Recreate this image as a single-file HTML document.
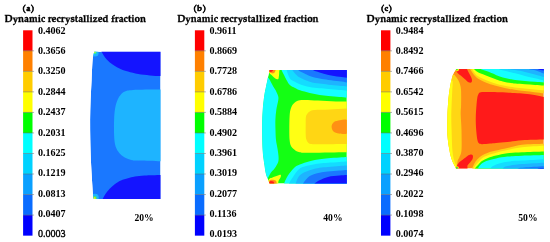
<!DOCTYPE html><html><head><meta charset="utf-8"><style>
html,body{margin:0;padding:0;background:#fff;width:550px;height:242px;overflow:hidden}
svg{display:block}
.t{font-family:"TeX Gyre Pagella","Palatino Linotype","Book Antiqua",Palatino,"Liberation Serif",serif;font-weight:bold}
.n{font-family:"Liberation Serif","Times New Roman",serif;font-weight:bold}
</style></head><body>
<svg width="550" height="242" viewBox="0 0 550 242">

<text class="t" x="22.1" y="10.5" font-size="8.4" stroke="#000" stroke-width="0.6" textLength="12.41" lengthAdjust="spacingAndGlyphs">(a)</text>
<text class="t" x="4.5" y="21.9" font-size="9.8" stroke="#000" stroke-width="0.35" textLength="141.4" lengthAdjust="spacingAndGlyphs">Dynamic recrystallized fraction</text>
<rect x="23.1" y="30.30" width="9.4" height="20.58" fill="#ff0000"/>
<rect x="23.1" y="50.83" width="9.4" height="20.58" fill="#ff8000"/>
<rect x="23.1" y="71.36" width="9.4" height="20.58" fill="#ffcc00"/>
<rect x="23.1" y="91.89" width="9.4" height="20.58" fill="#ffff00"/>
<rect x="23.1" y="112.42" width="9.4" height="20.58" fill="#00ff00"/>
<rect x="23.1" y="132.95" width="9.4" height="20.58" fill="#00ffff"/>
<rect x="23.1" y="153.48" width="9.4" height="20.58" fill="#00d2ff"/>
<rect x="23.1" y="174.01" width="9.4" height="20.58" fill="#0aa0ff"/>
<rect x="23.1" y="194.54" width="9.4" height="20.58" fill="#0a6cff"/>
<rect x="23.1" y="215.07" width="9.4" height="20.58" fill="#0000ff"/>
<line x1="23.1" x2="34.1" y1="50.83" y2="50.83" stroke="#666" stroke-width="0.5"/>
<line x1="23.1" x2="34.1" y1="71.36" y2="71.36" stroke="#666" stroke-width="0.5"/>
<line x1="23.1" x2="34.1" y1="91.89" y2="91.89" stroke="#666" stroke-width="0.5"/>
<line x1="23.1" x2="34.1" y1="112.42" y2="112.42" stroke="#666" stroke-width="0.5"/>
<line x1="23.1" x2="34.1" y1="132.95" y2="132.95" stroke="#666" stroke-width="0.5"/>
<line x1="23.1" x2="34.1" y1="153.48" y2="153.48" stroke="#666" stroke-width="0.5"/>
<line x1="23.1" x2="34.1" y1="174.01" y2="174.01" stroke="#666" stroke-width="0.5"/>
<line x1="23.1" x2="34.1" y1="194.54" y2="194.54" stroke="#666" stroke-width="0.5"/>
<line x1="23.1" x2="34.1" y1="215.07" y2="215.07" stroke="#666" stroke-width="0.5"/>
<text class="n" x="37.9" y="33.90" font-size="10.1">0.4062</text>
<text class="n" x="37.9" y="53.50" font-size="10.1">0.3656</text>
<text class="n" x="37.9" y="74.00" font-size="10.1">0.3250</text>
<text class="n" x="37.9" y="94.80" font-size="10.1">0.2844</text>
<text class="n" x="37.9" y="115.00" font-size="10.1">0.2437</text>
<text class="n" x="37.9" y="136.00" font-size="10.1">0.2031</text>
<text class="n" x="37.9" y="155.70" font-size="10.1">0.1625</text>
<text class="n" x="37.9" y="175.80" font-size="10.1">0.1219</text>
<text class="n" x="37.9" y="196.70" font-size="10.1">0.0813</text>
<text class="n" x="37.9" y="216.90" font-size="10.1">0.0407</text>
<text class="n" x="37.9" y="236.90" font-size="10.1" style="font-weight:normal" stroke="#000" stroke-width="0.35">0.0003</text>
<text class="n" x="134.5" y="220.6" font-size="9.6">20%</text>
<text class="t" x="193.0" y="10.5" font-size="8.4" stroke="#000" stroke-width="0.6" textLength="13.33" lengthAdjust="spacingAndGlyphs">(b)</text>
<text class="t" x="177.2" y="21.9" font-size="9.8" stroke="#000" stroke-width="0.35" textLength="141.4" lengthAdjust="spacingAndGlyphs">Dynamic recrystallized fraction</text>
<rect x="194.9" y="30.30" width="9.4" height="20.58" fill="#ff0000"/>
<rect x="194.9" y="50.83" width="9.4" height="20.58" fill="#ff8000"/>
<rect x="194.9" y="71.36" width="9.4" height="20.58" fill="#ffcc00"/>
<rect x="194.9" y="91.89" width="9.4" height="20.58" fill="#ffff00"/>
<rect x="194.9" y="112.42" width="9.4" height="20.58" fill="#00ff00"/>
<rect x="194.9" y="132.95" width="9.4" height="20.58" fill="#00ffff"/>
<rect x="194.9" y="153.48" width="9.4" height="20.58" fill="#00d2ff"/>
<rect x="194.9" y="174.01" width="9.4" height="20.58" fill="#0aa0ff"/>
<rect x="194.9" y="194.54" width="9.4" height="20.58" fill="#0a6cff"/>
<rect x="194.9" y="215.07" width="9.4" height="20.58" fill="#0000ff"/>
<line x1="194.9" x2="205.9" y1="50.83" y2="50.83" stroke="#666" stroke-width="0.5"/>
<line x1="194.9" x2="205.9" y1="71.36" y2="71.36" stroke="#666" stroke-width="0.5"/>
<line x1="194.9" x2="205.9" y1="91.89" y2="91.89" stroke="#666" stroke-width="0.5"/>
<line x1="194.9" x2="205.9" y1="112.42" y2="112.42" stroke="#666" stroke-width="0.5"/>
<line x1="194.9" x2="205.9" y1="132.95" y2="132.95" stroke="#666" stroke-width="0.5"/>
<line x1="194.9" x2="205.9" y1="153.48" y2="153.48" stroke="#666" stroke-width="0.5"/>
<line x1="194.9" x2="205.9" y1="174.01" y2="174.01" stroke="#666" stroke-width="0.5"/>
<line x1="194.9" x2="205.9" y1="194.54" y2="194.54" stroke="#666" stroke-width="0.5"/>
<line x1="194.9" x2="205.9" y1="215.07" y2="215.07" stroke="#666" stroke-width="0.5"/>
<text class="n" x="209.4" y="33.90" font-size="10.1">0.9611</text>
<text class="n" x="209.4" y="53.50" font-size="10.1">0.8669</text>
<text class="n" x="209.4" y="74.00" font-size="10.1">0.7728</text>
<text class="n" x="209.4" y="94.80" font-size="10.1">0.6786</text>
<text class="n" x="209.4" y="115.00" font-size="10.1">0.5884</text>
<text class="n" x="209.4" y="136.00" font-size="10.1">0.4902</text>
<text class="n" x="209.4" y="155.70" font-size="10.1">0.3961</text>
<text class="n" x="209.4" y="175.80" font-size="10.1">0.3019</text>
<text class="n" x="209.4" y="196.70" font-size="10.1">0.2077</text>
<text class="n" x="209.4" y="216.90" font-size="10.1">0.1136</text>
<text class="n" x="209.4" y="236.90" font-size="10.1">0.0193</text>
<text class="n" x="323.3" y="220.6" font-size="9.6">40%</text>
<text class="t" x="380.4" y="10.5" font-size="8.4" stroke="#000" stroke-width="0.6" textLength="11.94" lengthAdjust="spacingAndGlyphs">(c)</text>
<text class="t" x="366.6" y="21.9" font-size="9.8" stroke="#000" stroke-width="0.35" textLength="141.4" lengthAdjust="spacingAndGlyphs">Dynamic recrystallized fraction</text>
<rect x="381.0" y="30.30" width="9.4" height="20.58" fill="#ff0000"/>
<rect x="381.0" y="50.83" width="9.4" height="20.58" fill="#ff8000"/>
<rect x="381.0" y="71.36" width="9.4" height="20.58" fill="#ffcc00"/>
<rect x="381.0" y="91.89" width="9.4" height="20.58" fill="#ffff00"/>
<rect x="381.0" y="112.42" width="9.4" height="20.58" fill="#00ff00"/>
<rect x="381.0" y="132.95" width="9.4" height="20.58" fill="#00ffff"/>
<rect x="381.0" y="153.48" width="9.4" height="20.58" fill="#00d2ff"/>
<rect x="381.0" y="174.01" width="9.4" height="20.58" fill="#0aa0ff"/>
<rect x="381.0" y="194.54" width="9.4" height="20.58" fill="#0a6cff"/>
<rect x="381.0" y="215.07" width="9.4" height="20.58" fill="#0000ff"/>
<line x1="381.0" x2="392.0" y1="50.83" y2="50.83" stroke="#666" stroke-width="0.5"/>
<line x1="381.0" x2="392.0" y1="71.36" y2="71.36" stroke="#666" stroke-width="0.5"/>
<line x1="381.0" x2="392.0" y1="91.89" y2="91.89" stroke="#666" stroke-width="0.5"/>
<line x1="381.0" x2="392.0" y1="112.42" y2="112.42" stroke="#666" stroke-width="0.5"/>
<line x1="381.0" x2="392.0" y1="132.95" y2="132.95" stroke="#666" stroke-width="0.5"/>
<line x1="381.0" x2="392.0" y1="153.48" y2="153.48" stroke="#666" stroke-width="0.5"/>
<line x1="381.0" x2="392.0" y1="174.01" y2="174.01" stroke="#666" stroke-width="0.5"/>
<line x1="381.0" x2="392.0" y1="194.54" y2="194.54" stroke="#666" stroke-width="0.5"/>
<line x1="381.0" x2="392.0" y1="215.07" y2="215.07" stroke="#666" stroke-width="0.5"/>
<text class="n" x="395.7" y="33.90" font-size="10.1">0.9484</text>
<text class="n" x="395.7" y="53.50" font-size="10.1">0.8492</text>
<text class="n" x="395.7" y="74.00" font-size="10.1">0.7466</text>
<text class="n" x="395.7" y="94.80" font-size="10.1">0.6542</text>
<text class="n" x="395.7" y="115.00" font-size="10.1">0.5615</text>
<text class="n" x="395.7" y="136.00" font-size="10.1">0.4696</text>
<text class="n" x="395.7" y="155.70" font-size="10.1">0.3870</text>
<text class="n" x="395.7" y="175.80" font-size="10.1">0.2946</text>
<text class="n" x="395.7" y="196.70" font-size="10.1">0.2022</text>
<text class="n" x="395.7" y="216.90" font-size="10.1">0.1098</text>
<text class="n" x="395.7" y="236.90" font-size="10.1">0.0074</text>
<text class="n" x="518.3" y="220.6" font-size="9.6">50%</text>
<clipPath id="ca"><path d="M94.2,51.8 L160.5,51.8 L160.5,198.9 L93.8,198.9 C93.67,198.25 93.25,197.32 93.00,195.00 C92.75,192.68 92.52,188.33 92.30,185.00 C92.08,181.67 91.93,179.17 91.70,175.00 C91.47,170.83 91.13,165.83 90.90,160.00 C90.67,154.17 90.43,146.67 90.30,140.00 C90.17,133.33 90.05,126.67 90.10,120.00 C90.15,113.33 90.35,106.67 90.60,100.00 C90.85,93.33 91.27,86.67 91.60,80.00 C91.93,73.33 92.17,64.70 92.60,60.00 C93.03,55.30 93.93,53.17 94.20,51.80Z"/></clipPath>
<g clip-path="url(#ca)">
<path d="M94.2,51.8 L160.5,51.8 L160.5,198.9 L93.8,198.9 C93.67,198.25 93.25,197.32 93.00,195.00 C92.75,192.68 92.52,188.33 92.30,185.00 C92.08,181.67 91.93,179.17 91.70,175.00 C91.47,170.83 91.13,165.83 90.90,160.00 C90.67,154.17 90.43,146.67 90.30,140.00 C90.17,133.33 90.05,126.67 90.10,120.00 C90.15,113.33 90.35,106.67 90.60,100.00 C90.85,93.33 91.27,86.67 91.60,80.00 C91.93,73.33 92.17,64.70 92.60,60.00 C93.03,55.30 93.93,53.17 94.20,51.80Z" fill="#1a78ff"/>
<path d="M101.00,48.00 C101.12,48.67 100.78,50.13 101.70,52.00 C102.62,53.87 104.62,57.07 106.50,59.20 C108.38,61.33 110.58,63.13 113.00,64.80 C115.42,66.47 118.50,68.07 121.00,69.20 C123.50,70.33 125.13,70.78 128.00,71.60 C130.87,72.42 134.57,73.47 138.20,74.10 C141.83,74.73 146.08,75.07 149.80,75.40 C153.52,75.73 157.97,75.95 160.50,76.10 C163.03,76.25 164.25,76.27 165.00,76.30 L165.00,48.00Z" fill="#1414ff"/>
<path d="M102.00,203.00 C102.12,202.32 101.95,200.65 102.70,198.90 C103.45,197.15 105.20,194.32 106.50,192.50 C107.80,190.68 108.90,189.55 110.50,188.00 C112.10,186.45 114.35,184.47 116.10,183.20 C117.85,181.93 119.02,181.22 121.00,180.40 C122.98,179.58 125.68,178.93 128.00,178.30 C130.32,177.67 132.10,177.08 134.90,176.60 C137.70,176.12 140.53,175.68 144.80,175.40 C149.07,175.12 157.13,175.00 160.50,174.90 C163.87,174.80 164.25,174.82 165.00,174.80 L165.00,203.00Z" fill="#1414ff"/>
<path d="M165.00,89.40 C163.83,89.42 163.33,89.42 158.00,89.50 C152.67,89.58 138.53,89.55 133.00,89.90 C127.47,90.25 126.98,90.63 124.80,91.60 C122.62,92.57 121.22,94.05 119.90,95.70 C118.58,97.35 117.73,99.15 116.90,101.50 C116.07,103.85 115.37,106.72 114.90,109.80 C114.43,112.88 114.23,115.80 114.10,120.00 C113.97,124.20 113.92,130.85 114.10,135.00 C114.28,139.15 114.52,142.15 115.20,144.90 C115.88,147.65 116.87,149.57 118.20,151.50 C119.53,153.43 121.27,155.17 123.20,156.50 C125.13,157.83 127.67,158.82 129.80,159.50 C131.93,160.18 131.30,160.32 136.00,160.60 C140.70,160.88 153.17,161.08 158.00,161.20 C162.83,161.32 163.83,161.28 165.00,161.30Z" fill="#1eb4ff"/>
<circle cx="95" cy="53" r="3.6" fill="#1eb4ff"/><circle cx="94.9" cy="52.5" r="1.8" fill="#30f0a0"/><circle cx="94.7" cy="52.2" r="0.9" fill="#c0f040"/>
<circle cx="95" cy="197.6" r="3.8" fill="#1eb4ff"/><circle cx="94.8" cy="198" r="1.9" fill="#50f060"/><circle cx="94.5" cy="198.4" r="1.1" fill="#f0f020"/>
</g>
<clipPath id="cb"><path d="M269.6,70 L346.8,70 L346.8,183.5 L269.6,183.5 C269.03,182.08 267.07,178.08 266.20,175.00 C265.33,171.92 265.00,169.17 264.40,165.00 C263.80,160.83 262.98,156.50 262.60,150.00 C262.22,143.50 262.08,132.67 262.10,126.00 C262.12,119.33 262.35,115.00 262.70,110.00 C263.05,105.00 263.67,99.83 264.20,96.00 C264.73,92.17 265.37,89.67 265.90,87.00 C266.43,84.33 266.78,82.83 267.40,80.00 C268.02,77.17 269.23,71.67 269.60,70.00Z"/></clipPath>
<g clip-path="url(#cb)">
<path d="M269.6,70 L346.8,70 L346.8,183.5 L269.6,183.5 C269.03,182.08 267.07,178.08 266.20,175.00 C265.33,171.92 265.00,169.17 264.40,165.00 C263.80,160.83 262.98,156.50 262.60,150.00 C262.22,143.50 262.08,132.67 262.10,126.00 C262.12,119.33 262.35,115.00 262.70,110.00 C263.05,105.00 263.67,99.83 264.20,96.00 C264.73,92.17 265.37,89.67 265.90,87.00 C266.43,84.33 266.78,82.83 267.40,80.00 C268.02,77.17 269.23,71.67 269.60,70.00Z" fill="#14ff14"/>
<path d="M267.60,76.80 C267.92,77.25 268.73,78.22 269.50,79.50 C270.27,80.78 271.42,83.08 272.20,84.50 C272.98,85.92 273.57,86.92 274.20,88.00 C274.83,89.08 275.35,89.67 276.00,91.00 C276.65,92.33 277.72,94.50 278.10,96.00 C278.48,97.50 278.60,97.67 278.30,100.00 C278.00,102.33 276.78,106.67 276.30,110.00 C275.82,113.33 275.53,116.67 275.40,120.00 C275.27,123.33 275.40,126.67 275.50,130.00 C275.60,133.33 275.68,137.00 276.00,140.00 C276.32,143.00 276.98,145.33 277.40,148.00 C277.82,150.67 278.37,153.67 278.50,156.00 C278.63,158.33 278.80,160.00 278.20,162.00 C277.60,164.00 276.03,166.33 274.90,168.00 C273.77,169.67 272.38,170.67 271.40,172.00 C270.42,173.33 269.57,175.00 269.00,176.00 C268.43,177.00 268.17,177.67 268.00,178.00 L250.00,185.00 L250.00,70.00Z" fill="#14ffff"/>
<path d="M281.00,66.00 C281.10,66.67 281.10,68.50 281.60,70.00 C282.10,71.50 283.18,73.33 284.00,75.00 C284.82,76.67 285.52,78.33 286.50,80.00 C287.48,81.67 288.48,83.67 289.90,85.00 C291.32,86.33 293.32,87.12 295.00,88.00 C296.68,88.88 297.55,89.47 300.00,90.30 C302.45,91.13 306.43,92.22 309.70,93.00 C312.97,93.78 316.47,94.48 319.60,95.00 C322.73,95.52 325.20,95.75 328.50,96.10 C331.80,96.45 336.35,96.83 339.40,97.10 C342.45,97.37 345.03,97.57 346.80,97.70 C348.57,97.83 349.47,97.87 350.00,97.90 L350.00,66.00Z" fill="#14ffff"/>
<path d="M286.00,66.00 C286.10,66.67 285.95,67.93 286.60,70.00 C287.25,72.07 288.50,76.43 289.90,78.40 C291.30,80.37 293.35,80.83 295.00,81.80 C296.65,82.77 297.35,83.32 299.80,84.20 C302.25,85.08 306.40,86.42 309.70,87.10 C313.00,87.78 316.47,87.98 319.60,88.30 C322.73,88.62 325.20,88.70 328.50,89.00 C331.80,89.30 336.35,89.82 339.40,90.10 C342.45,90.38 345.03,90.55 346.80,90.70 C348.57,90.85 349.47,90.95 350.00,91.00 L350.00,66.00Z" fill="#14dcff"/>
<path d="M292.00,66.00 C292.07,66.67 291.73,68.58 292.40,70.00 C293.07,71.42 294.77,73.23 296.00,74.50 C297.23,75.77 297.52,76.40 299.80,77.60 C302.08,78.80 306.40,80.70 309.70,81.70 C313.00,82.70 316.47,83.10 319.60,83.60 C322.73,84.10 325.20,84.33 328.50,84.70 C331.80,85.07 336.35,85.50 339.40,85.80 C342.45,86.10 345.03,86.33 346.80,86.50 C348.57,86.67 349.47,86.75 350.00,86.80 L350.00,66.00Z" fill="#1eb4ff"/>
<path d="M297.80,66.00 C297.87,66.67 297.17,68.78 298.20,70.00 C299.23,71.22 302.08,72.32 304.00,73.30 C305.92,74.28 307.10,75.03 309.70,75.90 C312.30,76.77 316.47,77.83 319.60,78.50 C322.73,79.17 325.20,79.43 328.50,79.90 C331.80,80.37 336.35,80.88 339.40,81.30 C342.45,81.72 345.03,82.15 346.80,82.40 C348.57,82.65 349.47,82.73 350.00,82.80 L350.00,66.00Z" fill="#1a78ff"/>
<path d="M312.50,66.00 C312.58,66.67 311.82,68.93 313.00,70.00 C314.18,71.07 317.02,71.58 319.60,72.40 C322.18,73.22 325.20,74.17 328.50,74.90 C331.80,75.63 336.35,76.32 339.40,76.80 C342.45,77.28 345.03,77.58 346.80,77.80 C348.57,78.02 349.47,78.05 350.00,78.10 L350.00,66.00Z" fill="#1414ff"/>
<path d="M283.50,187.00 C283.60,186.42 283.60,185.00 284.10,183.50 C284.60,182.00 285.53,179.78 286.50,178.00 C287.47,176.22 288.57,174.55 289.90,172.80 C291.23,171.05 292.85,168.88 294.50,167.50 C296.15,166.12 297.27,165.55 299.80,164.50 C302.33,163.45 306.40,162.08 309.70,161.20 C313.00,160.32 316.55,159.70 319.60,159.20 C322.65,158.70 324.70,158.50 328.00,158.20 C331.30,157.90 336.27,157.62 339.40,157.40 C342.53,157.18 345.03,157.02 346.80,156.90 C348.57,156.78 349.47,156.73 350.00,156.70 L350.00,187.00Z" fill="#14ffff"/>
<path d="M288.50,187.00 C288.60,186.42 288.35,185.17 289.10,183.50 C289.85,181.83 291.22,179.48 293.00,177.00 C294.78,174.52 297.02,170.55 299.80,168.60 C302.58,166.65 306.40,166.15 309.70,165.30 C313.00,164.45 316.55,163.93 319.60,163.50 C322.65,163.07 324.70,162.97 328.00,162.70 C331.30,162.43 336.27,162.12 339.40,161.90 C342.53,161.68 345.03,161.52 346.80,161.40 C348.57,161.28 349.47,161.23 350.00,161.20 L350.00,187.00Z" fill="#14dcff"/>
<path d="M295.00,187.00 C295.12,186.42 294.90,185.47 295.70,183.50 C296.50,181.53 297.47,177.40 299.80,175.20 C302.13,173.00 306.40,171.53 309.70,170.30 C313.00,169.07 316.55,168.35 319.60,167.80 C322.65,167.25 324.70,167.30 328.00,167.00 C331.30,166.70 336.27,166.25 339.40,166.00 C342.53,165.75 345.03,165.62 346.80,165.50 C348.57,165.38 349.47,165.33 350.00,165.30 L350.00,187.00Z" fill="#1eb4ff"/>
<path d="M302.50,187.00 C302.60,186.42 301.90,185.32 303.10,183.50 C304.30,181.68 306.95,177.88 309.70,176.10 C312.45,174.32 316.55,173.55 319.60,172.80 C322.65,172.05 324.70,171.97 328.00,171.60 C331.30,171.23 336.27,170.87 339.40,170.60 C342.53,170.33 345.03,170.13 346.80,170.00 C348.57,169.87 349.47,169.83 350.00,169.80 L350.00,187.00Z" fill="#1a78ff"/>
<path d="M314.00,187.00 C314.12,186.42 313.77,184.63 314.70,183.50 C315.63,182.37 317.38,181.30 319.60,180.20 C321.82,179.10 324.70,177.67 328.00,176.90 C331.30,176.13 336.27,175.90 339.40,175.60 C342.53,175.30 345.03,175.20 346.80,175.10 C348.57,175.00 349.47,175.02 350.00,175.00 L350.00,187.00Z" fill="#1414ff"/>
<path d="M352.00,101.40 C349.33,101.40 341.67,101.55 336.00,101.40 C330.33,101.25 323.17,100.75 318.00,100.50 C312.83,100.25 308.25,99.88 305.00,99.90 C301.75,99.92 300.42,99.95 298.50,100.60 C296.58,101.25 294.80,102.40 293.50,103.80 C292.20,105.20 291.35,106.97 290.70,109.00 C290.05,111.03 289.83,112.50 289.60,116.00 C289.37,119.50 289.30,126.00 289.30,130.00 C289.30,134.00 289.35,137.42 289.60,140.00 C289.85,142.58 290.18,144.03 290.80,145.50 C291.42,146.97 292.10,147.75 293.30,148.80 C294.50,149.85 296.05,151.13 298.00,151.80 C299.95,152.47 299.67,152.67 305.00,152.80 C310.33,152.93 322.17,152.68 330.00,152.60 C337.83,152.52 348.33,152.35 352.00,152.30 L360.00,152.30 L360.00,100.40Z" fill="#ffff14"/>
<path d="M352.00,108.30 C348.33,108.52 336.20,109.32 330.00,109.60 C323.80,109.88 318.05,109.77 314.80,110.00 C311.55,110.23 311.72,110.42 310.50,111.00 C309.28,111.58 308.27,112.50 307.50,113.50 C306.73,114.50 306.20,115.25 305.90,117.00 C305.60,118.75 305.73,121.17 305.70,124.00 C305.67,126.83 305.62,131.50 305.70,134.00 C305.78,136.50 305.82,137.58 306.20,139.00 C306.58,140.42 307.20,141.65 308.00,142.50 C308.80,143.35 309.00,143.80 311.00,144.10 C313.00,144.40 313.17,144.32 320.00,144.30 C326.83,144.28 346.67,144.05 352.00,144.00 L360.00,144.00 L360.00,108.30Z" fill="#ffd614"/>
<path d="M347.00,120.00 C345.00,118.87 342.17,119.87 340.00,120.20 C337.83,120.53 335.40,120.95 334.00,122.00 C332.60,123.05 331.68,124.92 331.60,126.50 C331.52,128.08 332.27,130.35 333.50,131.50 C334.73,132.65 336.75,133.08 339.00,133.40 C341.25,133.72 344.83,134.47 347.00,133.40 C349.17,132.33 352.00,129.23 352.00,127.00 C352.00,124.77 349.00,121.13 347.00,120.00Z" fill="#ff9014"/>
<path d="M266.00,67.00 C267.58,66.08 276.30,66.17 278.50,67.00 C280.70,67.83 279.15,70.33 279.20,72.00 C279.25,73.67 279.00,75.78 278.80,77.00 C278.60,78.22 278.63,79.08 278.00,79.30 C277.37,79.52 276.00,78.93 275.00,78.30 C274.00,77.67 273.00,76.47 272.00,75.50 C271.00,74.53 270.00,73.92 269.00,72.50 C268.00,71.08 264.42,67.92 266.00,67.00Z" fill="#ffff14"/>
<path d="M266.00,67.00 C267.17,66.33 273.45,66.33 275.00,67.00 C276.55,67.67 275.55,69.95 275.30,71.00 C275.05,72.05 274.22,72.97 273.50,73.30 C272.78,73.63 271.92,73.38 271.00,73.00 C270.08,72.62 268.83,72.00 268.00,71.00 C267.17,70.00 264.83,67.67 266.00,67.00Z" fill="#ff9014"/>
<path d="M266.00,67.00 C266.83,66.42 271.87,66.37 273.00,67.00 C274.13,67.63 273.17,69.98 272.80,70.80 C272.43,71.62 271.60,71.95 270.80,71.90 C270.00,71.85 268.80,71.32 268.00,70.50 C267.20,69.68 265.17,67.58 266.00,67.00Z" fill="#ff1a1a"/>
<path d="M266.00,187.00 C264.67,185.72 268.00,180.83 269.00,179.30 C270.00,177.77 271.00,178.27 272.00,177.80 C273.00,177.33 274.00,176.88 275.00,176.50 C276.00,176.12 277.03,175.77 278.00,175.50 C278.97,175.23 280.38,174.57 280.80,174.90 C281.22,175.23 280.88,176.48 280.50,177.50 C280.12,178.52 279.08,179.42 278.50,181.00 C277.92,182.58 279.08,186.00 277.00,187.00 C274.92,188.00 267.33,188.28 266.00,187.00Z" fill="#ffff14"/>
<path d="M266.00,187.00 C264.92,185.92 268.42,181.70 269.50,180.50 C270.58,179.30 271.50,179.80 272.50,179.80 C273.50,179.80 274.83,180.05 275.50,180.50 C276.17,180.95 276.42,181.42 276.50,182.50 C276.58,183.58 277.75,186.25 276.00,187.00 C274.25,187.75 267.08,188.08 266.00,187.00Z" fill="#ff9014"/>
<path d="M266.00,187.00 C265.33,186.08 268.92,182.45 270.00,181.50 C271.08,180.55 271.83,181.13 272.50,181.30 C273.17,181.47 273.75,181.55 274.00,182.50 C274.25,183.45 275.33,186.25 274.00,187.00 C272.67,187.75 266.67,187.92 266.00,187.00Z" fill="#ff1a1a"/>
</g>
<clipPath id="cc"><path d="M456.3,68.9 L543.8,68.9 L543.8,168.6 L456.1,168.6 C455.40,167.17 453.02,163.10 451.90,160.00 C450.78,156.90 450.15,154.17 449.40,150.00 C448.65,145.83 447.73,140.33 447.40,135.00 C447.07,129.67 447.32,122.88 447.40,118.00 C447.48,113.12 447.57,110.23 447.90,105.70 C448.23,101.17 448.65,95.75 449.40,90.80 C450.15,85.85 451.25,79.65 452.40,76.00 C453.55,72.35 455.65,70.08 456.30,68.90Z"/></clipPath>
<g clip-path="url(#cc)">
<path d="M456.3,68.9 L543.8,68.9 L543.8,168.6 L456.1,168.6 C455.40,167.17 453.02,163.10 451.90,160.00 C450.78,156.90 450.15,154.17 449.40,150.00 C448.65,145.83 447.73,140.33 447.40,135.00 C447.07,129.67 447.32,122.88 447.40,118.00 C447.48,113.12 447.57,110.23 447.90,105.70 C448.23,101.17 448.65,95.75 449.40,90.80 C450.15,85.85 451.25,79.65 452.40,76.00 C453.55,72.35 455.65,70.08 456.30,68.90Z" fill="#ff9014"/>
<path d="M440.00,73.80 C442.08,73.88 449.92,73.88 452.50,74.30 C455.08,74.72 454.55,75.35 455.50,76.30 C456.45,77.25 457.42,78.55 458.20,80.00 C458.98,81.45 459.72,83.17 460.20,85.00 C460.68,86.83 460.95,87.67 461.10,91.00 C461.25,94.33 461.17,101.17 461.10,105.00 C461.03,108.83 460.63,109.83 460.70,114.00 C460.77,118.17 461.37,124.00 461.50,130.00 C461.63,136.00 461.83,145.50 461.50,150.00 C461.17,154.50 460.15,155.17 459.50,157.00 C458.85,158.83 458.02,159.50 457.60,161.00 C457.18,162.50 457.18,164.33 457.00,166.00 C456.82,167.67 456.58,170.17 456.50,171.00 L430.00,171.00 L430.00,73.80Z" fill="#ffd614"/>
<path d="M440.00,79.50 C441.87,79.58 449.10,79.33 451.20,80.00 C453.30,80.67 452.42,81.83 452.60,83.50 C452.78,85.17 452.47,86.42 452.30,90.00 C452.13,93.58 451.77,100.50 451.60,105.00 C451.43,109.50 451.30,112.83 451.30,117.00 C451.30,121.17 451.42,124.50 451.60,130.00 C451.78,135.50 452.00,145.00 452.40,150.00 C452.80,155.00 453.32,157.33 454.00,160.00 C454.68,162.67 455.92,164.17 456.50,166.00 C457.08,167.83 457.33,170.17 457.50,171.00 L430.00,171.00 L430.00,79.50Z" fill="#ffff14"/>
<path d="M550.00,97.40 C548.97,90.35 546.38,97.40 543.80,97.00 C541.22,96.60 537.72,95.53 534.50,95.00 C531.28,94.47 527.82,94.13 524.50,93.80 C521.18,93.47 518.68,93.25 514.60,93.00 C510.52,92.75 504.10,92.47 500.00,92.30 C495.90,92.13 493.17,92.02 490.00,92.00 C486.83,91.98 482.92,91.87 481.00,92.20 C479.08,92.53 479.17,92.70 478.50,94.00 C477.83,95.30 477.45,96.17 477.00,100.00 C476.55,103.83 475.93,112.00 475.80,117.00 C475.67,122.00 475.93,126.17 476.20,130.00 C476.47,133.83 476.93,137.78 477.40,140.00 C477.87,142.22 478.23,142.60 479.00,143.30 C479.77,144.00 480.17,144.17 482.00,144.20 C483.83,144.23 487.65,143.72 490.00,143.50 C492.35,143.28 493.22,143.15 496.10,142.90 C498.98,142.65 502.98,142.45 507.30,142.00 C511.62,141.55 515.92,140.62 522.00,140.20 C528.08,139.78 539.13,139.65 543.80,139.50 C548.47,139.35 548.97,146.32 550.00,139.30 C551.03,132.28 551.03,104.45 550.00,97.40Z" fill="#ff1a1a"/>
<path d="M469.50,65.00 C469.58,65.65 469.08,67.07 470.00,68.90 C470.92,70.73 473.33,74.18 475.00,76.00 C476.67,77.82 478.12,78.67 480.00,79.80 C481.88,80.93 483.83,81.85 486.30,82.80 C488.77,83.75 491.73,84.62 494.80,85.50 C497.87,86.38 501.40,87.38 504.70,88.10 C508.00,88.82 511.30,89.32 514.60,89.80 C517.90,90.28 521.18,90.60 524.50,91.00 C527.82,91.40 531.28,91.82 534.50,92.20 C537.72,92.58 541.55,93.07 543.80,93.30 C546.05,93.53 547.30,93.55 548.00,93.60 L548.00,65.00Z" fill="#ffd614"/>
<path d="M471.50,65.00 C471.58,65.65 471.42,67.48 472.00,68.90 C472.58,70.32 474.00,72.28 475.00,73.50 C476.00,74.72 476.12,75.07 478.00,76.20 C479.88,77.33 483.55,79.13 486.30,80.30 C489.05,81.47 491.43,82.28 494.50,83.20 C497.57,84.12 501.35,85.10 504.70,85.80 C508.05,86.50 511.30,86.97 514.60,87.40 C517.90,87.83 521.18,88.07 524.50,88.40 C527.82,88.73 531.28,89.08 534.50,89.40 C537.72,89.72 541.55,90.10 543.80,90.30 C546.05,90.50 547.30,90.55 548.00,90.60 L548.00,65.00Z" fill="#ffff14"/>
<path d="M473.50,65.00 C473.58,65.65 473.58,67.93 474.00,68.90 C474.42,69.87 475.33,70.23 476.00,70.80 C476.67,71.37 476.83,71.72 478.00,72.30 C479.17,72.88 480.93,73.48 483.00,74.30 C485.07,75.12 488.07,76.30 490.40,77.20 C492.73,78.10 494.93,79.00 497.00,79.70 C499.07,80.40 500.47,80.85 502.80,81.40 C505.13,81.95 508.93,82.65 511.00,83.00 C513.07,83.35 512.87,83.28 515.20,83.50 C517.53,83.72 521.70,84.05 525.00,84.30 C528.30,84.55 531.87,84.80 535.00,85.00 C538.13,85.20 541.63,85.38 543.80,85.50 C545.97,85.62 547.30,85.67 548.00,85.70 L548.00,65.00Z" fill="#14ff14"/>
<path d="M480.00,65.00 C480.08,65.65 479.45,67.90 480.50,68.90 C481.55,69.90 484.23,70.23 486.30,71.00 C488.37,71.77 491.12,72.73 492.90,73.50 C494.68,74.27 495.35,74.92 497.00,75.60 C498.65,76.28 500.73,77.05 502.80,77.60 C504.87,78.15 507.33,78.52 509.40,78.90 C511.47,79.28 512.60,79.55 515.20,79.90 C517.80,80.25 521.70,80.68 525.00,81.00 C528.30,81.32 531.87,81.55 535.00,81.80 C538.13,82.05 541.63,82.35 543.80,82.50 C545.97,82.65 547.30,82.67 548.00,82.70 L548.00,65.00Z" fill="#14ffff"/>
<path d="M497.50,65.00 C497.67,65.65 496.93,67.87 498.50,68.90 C500.07,69.93 504.12,70.47 506.90,71.20 C509.68,71.93 512.18,72.50 515.20,73.30 C518.22,74.10 521.70,75.17 525.00,76.00 C528.30,76.83 531.87,77.55 535.00,78.30 C538.13,79.05 541.63,80.05 543.80,80.50 C545.97,80.95 547.30,80.92 548.00,81.00 L548.00,65.00Z" fill="#14dcff"/>
<path d="M506.50,65.00 C506.67,65.65 506.05,68.05 507.50,68.90 C508.95,69.75 512.28,69.58 515.20,70.10 C518.12,70.62 521.70,71.27 525.00,72.00 C528.30,72.73 531.87,73.67 535.00,74.50 C538.13,75.33 541.63,76.50 543.80,77.00 C545.97,77.50 547.30,77.42 548.00,77.50 L548.00,65.00Z" fill="#1eb4ff"/>
<path d="M527.50,65.00 C527.67,65.65 527.08,67.98 528.50,68.90 C529.92,69.82 533.45,69.73 536.00,70.50 C538.55,71.27 541.80,72.92 543.80,73.50 C545.80,74.08 547.30,73.92 548.00,74.00 L548.00,65.00Z" fill="#1a78ff"/>
<path d="M536.50,65.00 C536.67,65.65 536.28,67.97 537.50,68.90 C538.72,69.83 542.05,70.27 543.80,70.60 C545.55,70.93 547.30,70.85 548.00,70.90 L548.00,65.00Z" fill="#1414ff"/>
<path d="M471.60,172.00 C471.70,171.40 471.63,169.98 472.20,168.40 C472.77,166.82 474.03,164.10 475.00,162.50 C475.97,160.90 476.83,159.95 478.00,158.80 C479.17,157.65 480.33,156.60 482.00,155.60 C483.67,154.60 485.65,153.63 488.00,152.80 C490.35,151.97 492.88,151.40 496.10,150.60 C499.32,149.80 502.98,148.98 507.30,148.00 C511.62,147.02 515.92,145.42 522.00,144.70 C528.08,143.98 539.47,143.90 543.80,143.70 C548.13,143.50 547.30,143.53 548.00,143.50 L548.00,172.00Z" fill="#ffd614"/>
<path d="M473.00,172.00 C473.10,171.40 472.93,169.82 473.60,168.40 C474.27,166.98 475.60,165.20 477.00,163.50 C478.40,161.80 480.17,159.58 482.00,158.20 C483.83,156.82 485.65,156.12 488.00,155.20 C490.35,154.28 492.88,153.57 496.10,152.70 C499.32,151.83 502.98,150.92 507.30,150.00 C511.62,149.08 515.92,147.90 522.00,147.20 C528.08,146.50 539.47,146.07 543.80,145.80 C548.13,145.53 547.30,145.63 548.00,145.60 L548.00,172.00Z" fill="#ffff14"/>
<path d="M474.40,172.00 C474.50,171.40 474.32,169.65 475.00,168.40 C475.68,167.15 477.33,165.73 478.50,164.50 C479.67,163.27 480.42,162.08 482.00,161.00 C483.58,159.92 485.65,158.90 488.00,158.00 C490.35,157.10 492.88,156.38 496.10,155.60 C499.32,154.82 502.98,153.87 507.30,153.30 C511.62,152.73 515.92,152.52 522.00,152.20 C528.08,151.88 539.47,151.55 543.80,151.40 C548.13,151.25 547.30,151.32 548.00,151.30 L548.00,172.00Z" fill="#14ff14"/>
<path d="M477.20,172.00 C477.30,171.40 477.00,169.85 477.80,168.40 C478.60,166.95 480.30,164.63 482.00,163.30 C483.70,161.97 485.65,161.22 488.00,160.40 C490.35,159.58 492.88,159.03 496.10,158.40 C499.32,157.77 502.98,157.05 507.30,156.60 C511.62,156.15 515.92,155.97 522.00,155.70 C528.08,155.43 539.47,155.13 543.80,155.00 C548.13,154.87 547.30,154.92 548.00,154.90 L548.00,172.00Z" fill="#14ffff"/>
<path d="M490.00,172.00 C490.08,171.40 489.48,169.63 490.50,168.40 C491.52,167.17 493.30,165.72 496.10,164.60 C498.90,163.48 502.98,162.37 507.30,161.70 C511.62,161.03 515.92,161.02 522.00,160.60 C528.08,160.18 539.47,159.47 543.80,159.20 C548.13,158.93 547.30,159.03 548.00,159.00 L548.00,172.00Z" fill="#14dcff"/>
<path d="M502.50,172.00 C502.58,171.40 502.20,169.40 503.00,168.40 C503.80,167.40 504.13,166.72 507.30,166.00 C510.47,165.28 515.92,164.65 522.00,164.10 C528.08,163.55 539.47,162.97 543.80,162.70 C548.13,162.43 547.30,162.53 548.00,162.50 L548.00,172.00Z" fill="#1eb4ff"/>
<path d="M517.50,172.00 C517.58,171.43 516.87,169.37 518.00,168.60 C519.13,167.83 520.00,167.80 524.30,167.40 C528.60,167.00 539.85,166.43 543.80,166.20 C547.75,165.97 547.30,166.03 548.00,166.00 L548.00,172.00Z" fill="#1a78ff"/>
<path d="M537.50,172.00 C537.58,171.43 536.95,169.27 538.00,168.60 C539.05,167.93 542.13,168.12 543.80,168.00 C545.47,167.88 547.30,167.92 548.00,167.90 L548.00,172.00Z" fill="#1414ff"/>
<path d="M456.80,66.00 C458.47,65.25 464.77,65.42 466.50,66.00 C468.23,66.58 466.70,68.17 467.20,69.50 C467.70,70.83 468.73,72.42 469.50,74.00 C470.27,75.58 471.47,77.62 471.80,79.00 C472.13,80.38 472.05,81.77 471.50,82.30 C470.95,82.83 469.58,82.72 468.50,82.20 C467.42,81.68 466.25,80.27 465.00,79.20 C463.75,78.13 462.20,76.80 461.00,75.80 C459.80,74.80 458.55,74.08 457.80,73.20 C457.05,72.32 456.67,71.70 456.50,70.50 C456.33,69.30 455.13,66.75 456.80,66.00Z" fill="#ff1a1a"/>
<path d="M456.00,170.00 C454.33,169.42 456.00,167.75 456.50,166.50 C457.00,165.25 457.92,163.67 459.00,162.50 C460.08,161.33 461.58,160.58 463.00,159.50 C464.42,158.42 466.23,156.82 467.50,156.00 C468.77,155.18 469.72,154.67 470.60,154.60 C471.48,154.53 472.48,154.87 472.80,155.60 C473.12,156.33 472.97,157.85 472.50,159.00 C472.03,160.15 470.83,161.42 470.00,162.50 C469.17,163.58 468.08,164.25 467.50,165.50 C466.92,166.75 468.42,169.25 466.50,170.00 C464.58,170.75 457.67,170.58 456.00,170.00Z" fill="#ff1a1a"/>
<circle cx="457.2" cy="69.5" r="1.8" fill="#ffee00"/><circle cx="456.8" cy="69.3" r="1.1" fill="#50f030"/>
<circle cx="457.2" cy="168" r="1.8" fill="#ffee00"/><circle cx="456.9" cy="168.2" r="1.1" fill="#30e050"/>
</g>
</svg></body></html>
